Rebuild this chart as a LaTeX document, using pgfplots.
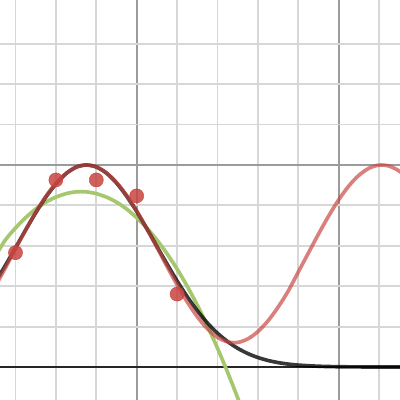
\documentclass[border=0pt]{standalone}
\usepackage{pgfplots}
\pgfplotsset{compat=1.18}
\definecolor{dred}{RGB}{199,68,64}
\definecolor{dgreen}{RGB}{165,200,110}
\definecolor{gminor}{RGB}{215,215,215}
\definecolor{gmajor}{RGB}{155,155,155}

\begin{document}
\begin{tikzpicture}
\begin{axis}[
    scale only axis,
    width=10cm, height=10cm,
    xmin=0.3233, xmax=2.3035,
    ymin=-0.1634, ymax=1.8168,
    axis line style={draw=none},
    tick style={draw=none},
    clip=true,
    xtick={1,2},
    ytick={1},
    minor xtick={0.4,0.6,0.8,1.2,1.4,1.6,1.8,2.2},
    minor ytick={0.2,0.4,0.6,0.8,1.2,1.4,1.6},
    extra y ticks={0},
    extra y tick style={grid=major, major grid style={black!85, line width=1.4pt}},
    xticklabels={}, yticklabels={}, extra y tick labels={},
    grid=both,
    minor grid style={gminor, line width=1.3pt},
    major grid style={gmajor, line width=1.3pt},
]
% green: quadratic-looking fit
\addplot[dgreen, line width=2.6pt, smooth] coordinates {
    (0.30,0.548) (0.35,0.629) (0.40,0.688) (0.45,0.739) (0.50,0.782)
    (0.55,0.816) (0.60,0.841) (0.65,0.858) (0.70,0.867) (0.75,0.867)
    (0.80,0.858) (0.85,0.841) (0.90,0.816) (0.95,0.782) (1.00,0.739)
    (1.05,0.688) (1.10,0.629) (1.15,0.561) (1.20,0.485) (1.25,0.400)
    (1.30,0.306) (1.35,0.204) (1.40,0.093) (1.45,-0.026) (1.50,-0.153)
    (1.55,-0.289)
};
% black: bell-shaped fit
\addplot[black, opacity=0.78, line width=2.6pt, smooth] coordinates {
    (0.30,0.419) (0.35,0.503) (0.40,0.590) (0.45,0.678) (0.50,0.763)
    (0.55,0.841) (0.60,0.906) (0.65,0.957) (0.70,0.989) (0.75,1.000)
    (0.80,0.990) (0.85,0.960) (0.90,0.911) (0.95,0.846) (1.00,0.770)
    (1.05,0.685) (1.10,0.597) (1.15,0.510) (1.20,0.426) (1.25,0.348)
    (1.30,0.279) (1.35,0.218) (1.40,0.167) (1.45,0.126) (1.50,0.0925)
    (1.55,0.0666) (1.60,0.0469) (1.65,0.0323) (1.70,0.0218) (1.75,0.0144)
    (1.80,0.0093) (1.90,0.0037) (2.00,0.0013) (2.10,0.0004) (2.20,0.0001)
    (2.35,0.0)
};
% red: periodic fit
\addplot[dred, opacity=0.68, line width=2.6pt, smooth] coordinates {
    (0.30,0.3997) (0.35,0.4907) (0.40,0.585) (0.45,0.678) (0.50,0.7656)
    (0.55,0.8442) (0.60,0.9093) (0.65,0.9583) (0.70,0.989) (0.75,1.0)
    (0.80,0.9907) (0.85,0.9615) (0.90,0.9138) (0.95,0.8499) (1.00,0.7724)
    (1.05,0.6855) (1.10,0.5926) (1.15,0.4982) (1.20,0.4067) (1.25,0.3224)
    (1.30,0.2489) (1.35,0.1890) (1.40,0.1467) (1.45,0.1244) (1.50,0.1215)
    (1.55,0.1390) (1.60,0.1752) (1.65,0.2285) (1.70,0.2963) (1.75,0.3759)
    (1.80,0.4703) (1.85,0.5643) (1.90,0.658) (1.95,0.7471) (2.00,0.8279)
    (2.05,0.8962) (2.10,0.949) (2.15,0.9839) (2.20,0.9993) (2.25,0.9945)
    (2.30,0.9695) (2.35,0.9258)
};
% data points
\addplot[only marks, mark=*, mark size=5pt, dred, opacity=0.85,
    mark options={draw=none, fill=dred}] coordinates {
    (0.4,0.566) (0.6,0.926) (0.8,0.926) (1.0,0.847) (1.2,0.361)
};
\end{axis}
\pgfresetboundingbox
\useasboundingbox (current axis.south west) rectangle (current axis.north east);
\end{tikzpicture}
\end{document}
